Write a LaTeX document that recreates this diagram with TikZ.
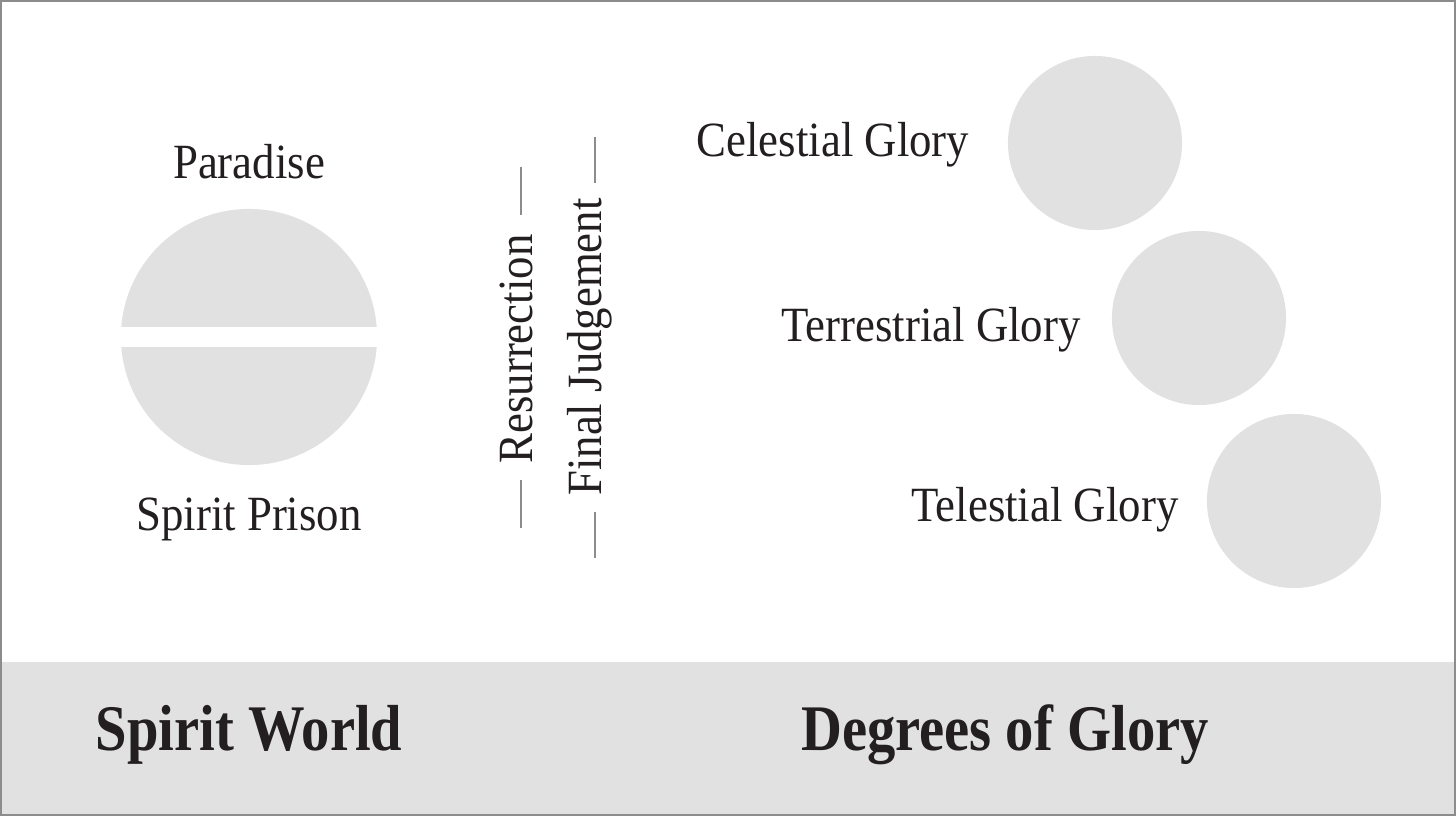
\documentclass[tikz,border=0pt]{standalone}
\usepackage{fontspec}
\setmainfont{Liberation Serif}
\usepackage{graphicx}
\definecolor{ink}{HTML}{231F20}
\definecolor{disc}{HTML}{E0E1E0}
\definecolor{rule}{HTML}{8C8C8C}
\tikzset{
  lbl/.style={inner sep=0pt, text=ink, font=\fontsize{14}{16}\selectfont},
  head/.style={inner sep=0pt, text=ink, font=\fontsize{18.5}{20}\selectfont\bfseries},
  glory/.style={circle, fill=disc, draw=none, minimum size=1.74cm, inner sep=0pt},
  tick/.style={draw=rule, line width=0.6pt},
}
\newcommand{\sq}[1]{\scalebox{0.91}[1]{#1}}
\newcommand{\sqb}[1]{\scalebox{0.87}[1]{#1}}
\begin{document}
\begin{tikzpicture}[x=0.01cm, y=-0.01cm]
\useasboundingbox (0,0) rectangle (1456,816);
% bottom band
\fill[disc] (0,662) rectangle (1456,816);
% border
\draw[rule, line width=0.8pt] (0.5,0.5) rectangle (1455.5,815.5);

% spirit world disc
\node[circle, fill=disc, minimum size=2.56cm, inner sep=0pt] (sw) at (249,337) {};
\fill[white] (110,327) rectangle (390,347);
\node[lbl] (paradise) at (249,162) {\sq{Paradise}};
\node[lbl] (prison) at (249,519) {\sq{Spirit Prison}};

% vertical labels
\node[lbl, rotate=90] (res) at (516,349) {\sq{Resurrection}};
\node[lbl, rotate=90] (fj) at (590,347) {\sq{Final Judgement}};
\coordinate (r1) at (521,167); \coordinate (r2) at (521,215);
\coordinate (r3) at (521,480); \coordinate (r4) at (521,528);
\coordinate (f1) at (595,137); \coordinate (f2) at (595,183);
\coordinate (f3) at (595,512); \coordinate (f4) at (595,558);
\draw[tick] (r1) -- (r2);
\draw[tick] (r3) -- (r4);
\draw[tick] (f1) -- (f2);
\draw[tick] (f3) -- (f4);

% degrees of glory
\node[glory] (cel) at (1095,143) {};
\node[glory] (ter) at (1199,318) {};
\node[glory] (tel) at (1294,501) {};
\node[lbl] (celt) at (833,145) {\sq{Celestial Glory}};
\node[lbl] (tert) at (931,330) {\sq{Terrestrial Glory}};
\node[lbl] (telt) at (1045,510) {\sq{Telestial Glory}};

% band headings
\node[head] (swt) at (249,735) {\sqb{Spirit World}};
\node[head] (dgt) at (1005,735) {\sqb{Degrees of Glory}};
\end{tikzpicture}
\end{document}
